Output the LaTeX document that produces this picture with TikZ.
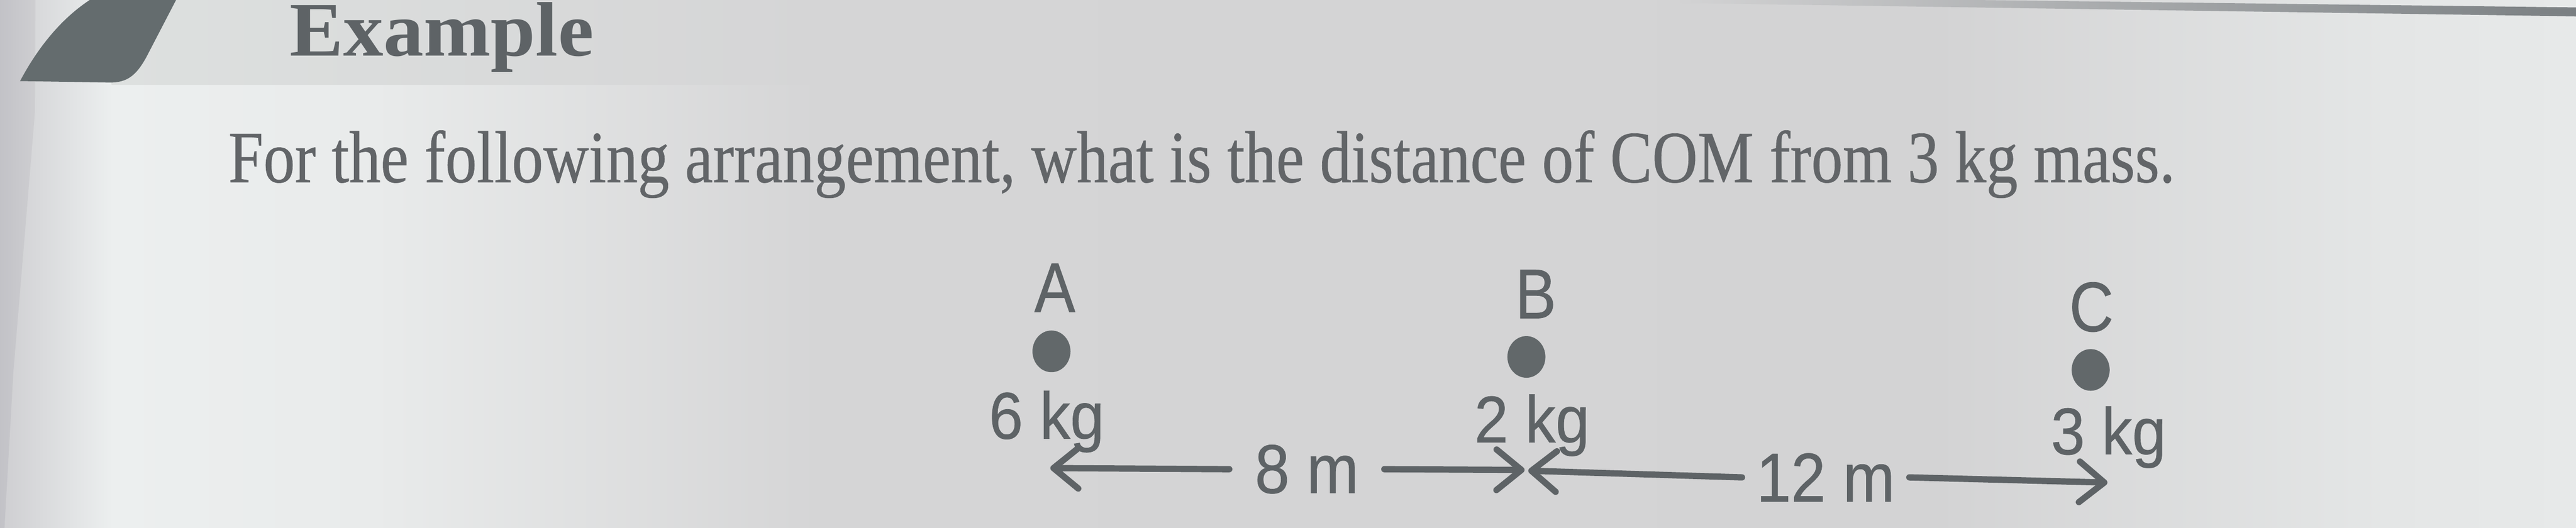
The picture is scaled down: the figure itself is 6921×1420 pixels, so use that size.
\documentclass[tikz,border=0pt]{standalone}
\usepackage{fontspec}
\setmainfont{Liberation Serif}
\newfontfamily\qfont[FakeBold=0.5]{Liberation Serif}
\newfontfamily\diagfont[FakeBold=0.6]{Liberation Sans}
\usetikzlibrary{arrows.meta,shapes.geometric}
\definecolor{ink}{RGB}{94,99,102}
\definecolor{qink}{RGB}{98,101,104}
\definecolor{dotc}{RGB}{98,104,106}
\definecolor{tabc}{RGB}{100,108,110}
\definecolor{bgA}{RGB}{194,194,199}
\definecolor{bgB}{RGB}{206,206,209}
\definecolor{bgC}{RGB}{236,239,239}
\definecolor{bgD}{RGB}{233,235,235}
\definecolor{bgE}{RGB}{213,213,214}
\definecolor{bgF}{RGB}{211,211,212}
\definecolor{bgG}{RGB}{228,230,230}
\definecolor{bgH}{RGB}{231,233,233}
\definecolor{bandc}{RGB}{221,224,223}
\definecolor{rulec}{RGB}{122,127,130}
\tikzset{
  massdot/.style={ellipse, fill=dotc, inner sep=0pt, minimum width=1.02cm, minimum height=1.12cm},
  letterlbl/.style={inner sep=0pt, anchor=base, text=ink,
    font=\diagfont\fontsize{53.8pt}{60pt}\selectfont},
  kglbl/.style={inner sep=0pt, anchor=base, text=ink,
    font=\diagfont\fontsize{50.6pt}{56pt}\selectfont},
  distlbl/.style={inner ysep=0pt, text=ink,
    font=\diagfont\fontsize{52.9pt}{58pt}\selectfont},
  dimline/.style={draw=ink, line width=4.8pt, line cap=round, line join=round,
    -{Straight Barb[length=19pt,width=31pt,line cap=round,line join=round]}}
}
\begin{document}
\begin{tikzpicture}[x=0.01cm,y=-0.01cm]
\useasboundingbox (0,0) rectangle (6921,1420);
% photographed page background
\shade[left color=bgB, right color=bgC] (0,0) rectangle (302,1420);
\shade[left color=bgC, right color=bgD] (300,0) rectangle (1002,1420);
\shade[left color=bgD, right color=bgE] (1000,0) rectangle (2202,1420);
\shade[left color=bgE, right color=bgF] (2200,0) rectangle (5202,1420);
\shade[left color=bgF, right color=bgG] (5200,0) rectangle (6402,1420);
\shade[left color=bgG, right color=bgH] (6400,0) rectangle (6921,1420);
% header band, darker page edge at the left
\shade[left color=bandc, right color=bgE] (300,0) rectangle (2200,228);
\shade[left color=bgA, right color=bgB] (0,0) -- (95,0) -- (94,300) -- (36,1000) -- (12,1420) -- (0,1420) -- cycle;
% header tab and rule
\fill[tabc] (241,0) -- (473,0) -- (393,154) .. controls (365,205) and (340,222) .. (295,222)
  -- (54,218) .. controls (90,150) and (150,60) .. cycle;
\shade[left color=bgF, right color=rulec] (4500,-10) -- (6921,20) -- (6921,44) -- (4500,8) -- cycle;
% texts
\node[anchor=base west, inner sep=0pt, text=ink, font=\bfseries\fontsize{59pt}{66pt}\selectfont]
  (title) at (778,150) {\resizebox{8.16cm}{\height}{Example}};
\node[anchor=base west, inner sep=0pt, text=qink, font=\qfont\fontsize{56.3pt}{62pt}\selectfont]
  (question) at (613,490) {\resizebox{52.27cm}{\height}{For the following arrangement, what is the distance of COM from 3 kg mass.}};
% masses
\node[letterlbl] (lA) at (2834,839) {\scalebox{0.87}[1]{A}};
\node[letterlbl] (lB) at (4126,856) {\scalebox{0.87}[1]{B}};
\node[letterlbl] (lC) at (5619,891) {\scalebox{0.87}[1]{C}};
\node[massdot] (dA) at (2825,945) {};
\node[massdot] (dB) at (4101,960) {};
\node[massdot] (dC) at (5617,995) {};
\node[kglbl] (mA) at (2812,1180) {\scalebox{0.92}[1]{6 kg}};
\node[kglbl] (mB) at (4116,1190) {\scalebox{0.92}[1]{2 kg}};
\node[kglbl] (mC) at (5665,1222) {\scalebox{0.92}[1]{3 kg}};
% distances
\coordinate (tA) at (2822,1259);
\coordinate (tB1) at (4096,1264);
\coordinate (tB2) at (4106,1266);
\coordinate (tC) at (5662,1298);
\node[distlbl, inner xsep=0.68cm] (d8) at (3511,1262) {\scalebox{0.9}[1]{8 m}};
\node[distlbl, inner xsep=0.38cm] (d12) at (4905,1284) {\scalebox{0.9}[1]{12 m}};
\draw[dimline] (d8.west) -- (tA);
\draw[dimline] (d8.east) -- (tB1);
\draw[dimline] (d12.west) -- (tB2);
\draw[dimline] (d12.east) -- (tC);
\end{tikzpicture}
\end{document}
